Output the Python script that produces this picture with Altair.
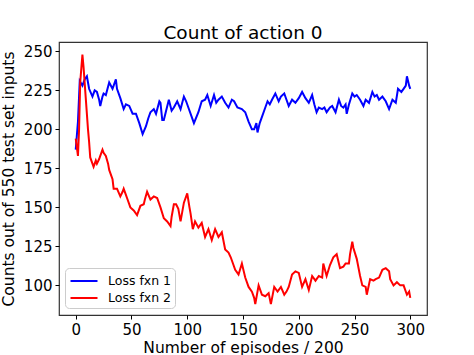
import altair as alt
import pandas as pd

blue_x = [0, 2, 3.6, 6, 8, 10, 12, 15, 17, 19, 21, 22, 24, 25, 27, 30, 33, 36, 37, 40, 43, 45, 48, 51, 54, 57, 60, 63, 65, 67, 70, 72, 75, 76, 77.6, 79, 83.5, 86, 88, 91, 94, 97, 99, 101, 104, 106, 110, 113, 116, 118, 121, 124, 126, 128, 131, 134, 137, 140, 142, 145, 149, 152, 155, 158, 160, 162, 163, 165, 167, 170, 172, 174, 176, 179, 182, 184, 187, 189, 191, 194, 197, 200, 203, 206, 209, 212, 214, 216, 218, 221, 223, 225, 228, 230, 233, 236, 238, 240, 242, 243, 245, 248, 250, 252, 255, 258, 260, 263, 266, 268, 270, 272, 275, 278, 281, 284, 287, 289, 292, 294, 296, 297, 299, 300]
blue_y = [187, 205, 231, 228, 232, 234, 226, 221, 225, 224, 219, 215, 221, 223, 222, 230, 226, 232, 226, 220, 213, 216, 215, 210, 210, 204, 197, 202, 207, 211, 213, 210, 218, 217, 206, 206, 219, 212, 214, 218, 213, 221, 218, 214, 208, 204, 211, 218, 219, 222, 215, 222, 217, 219, 221, 217, 214, 219, 218, 214, 213, 211, 205, 200, 200, 204, 198, 204, 208, 214, 218, 216, 219, 223, 218, 221, 223, 219, 215, 219, 217, 220, 224, 220, 217, 222, 216, 211, 214, 213, 214, 211, 214, 215, 211, 219, 215, 214, 216, 210, 216, 223, 221, 222, 219, 215, 219, 217, 224, 221, 222, 219, 221, 218, 213, 219, 217, 226, 224, 226, 228, 234, 228, 226]

red_x = [0, 2, 3, 4, 6, 7, 9, 11, 12, 13, 15, 16, 18, 19, 21, 22, 24, 25, 27, 29, 30, 33, 34, 37, 40, 42, 43, 45, 46, 49, 52, 55, 58, 61, 62, 64, 67, 70, 73, 76, 79, 82, 85, 86, 88, 90, 92, 94, 97, 100, 102, 103, 105, 107, 110, 113, 116, 119, 122, 125, 128, 131, 134, 137, 139, 141, 143, 146, 149, 152, 155, 158, 160, 161, 164, 167, 170, 173, 175, 178, 181, 184, 187, 189, 191, 194, 197, 200, 203, 206, 209, 212, 215, 218, 221, 222, 225, 228, 231, 234, 237, 240, 242, 245, 246, 248, 249, 252, 255, 257, 260, 261, 264, 267, 269, 272, 275, 278, 281, 282, 285, 288, 291, 294, 297, 299, 300]
red_y = [194, 183, 200, 230, 248, 240, 220, 200, 192, 182, 178, 176, 180, 178, 181, 183, 187, 185, 183, 178, 174, 168, 162, 162, 157, 160, 162, 158, 156, 150, 148, 145, 151, 152, 155, 160, 155, 157, 156, 150, 143, 141, 138, 144, 152, 152, 149, 141, 153, 159, 150, 146, 136, 141, 137, 140, 131, 136, 129, 136, 131, 134, 123, 121, 118, 114, 110, 107, 114, 105, 99, 96, 92, 88, 100, 94, 93, 95, 88, 99, 96, 99, 94, 96, 99, 107, 109, 108, 99, 104, 97, 106, 103, 106, 105, 114, 106, 113, 118, 120, 111, 112, 114, 114, 120, 128, 124, 117, 106, 100, 99, 94, 104, 103, 104, 105, 110, 111, 109, 104, 100, 102, 100, 100, 94, 96, 92]

series_names = ["Loss fxn 1", "Loss fxn 2"]
x_ticks = [0, 50, 100, 150, 200, 250, 300]
y_ticks = [100, 125, 150, 175, 200, 225, 250]

df = pd.concat([
    pd.DataFrame({"ep": blue_x, "count": blue_y, "series": series_names[0], "order": range(len(blue_x))}),
    pd.DataFrame({"ep": red_x, "count": red_y, "series": series_names[1], "order": range(len(red_x))}),
])

FONT = "DejaVu Sans"

chart = alt.Chart(df).mark_line(strokeWidth=2).encode(
    x=alt.X("ep:Q", scale=alt.Scale(domain=[-15, 315], nice=False, zero=False),
            axis=alt.Axis(values=x_ticks, title="Number of episodes / 200", grid=False,
                          labelFontSize=15, titleFontSize=15.5, tickSize=4, labelPadding=3,
                          titlePadding=3, domain=False)),
    y=alt.Y("count:Q", scale=alt.Scale(domain=[81, 256], nice=False, zero=False),
            axis=alt.Axis(values=y_ticks, title="Counts out of 550 test set inputs", grid=False,
                          labelFontSize=15, titleFontSize=15.5, tickSize=4, labelPadding=3,
                          titlePadding=7, domain=False)),
    color=alt.Color("series:N", scale=alt.Scale(domain=series_names, range=["#0000ff", "#ff0000"]),
                    legend=alt.Legend(title=None, orient="none", legendX=6, legendY=226,
                                      symbolType="M-1.5,0L1.5,0", symbolSize=324, symbolStrokeWidth=2,
                                      symbolOffset=6, labelOffset=14,
                                      labelFontSize=12.5, fillColor="white", strokeColor="#cccccc",
                                      cornerRadius=4, padding=3, rowPadding=0)),
    order="order:Q",
).properties(
    width=368, height=273,
    title=alt.TitleParams("Count of action 0", fontSize=18.5, fontWeight="normal", anchor="middle", offset=0),
    padding={"left": 59, "top": 42, "right": 47, "bottom": 40},
    autosize=alt.AutoSizeParams(type="none"),
).configure(font=FONT).configure_axis(
    labelFont=FONT, titleFont=FONT, labelColor="black", titleColor="black", tickColor="black",
    titleFontWeight="normal"
).configure_view(stroke="#333333", strokeWidth=1.2).configure_title(font=FONT, color="black"
).configure_legend(labelFont=FONT, labelColor="black")

chart.save("out.html", embed_options={"renderer": "svg", "actions": False})
